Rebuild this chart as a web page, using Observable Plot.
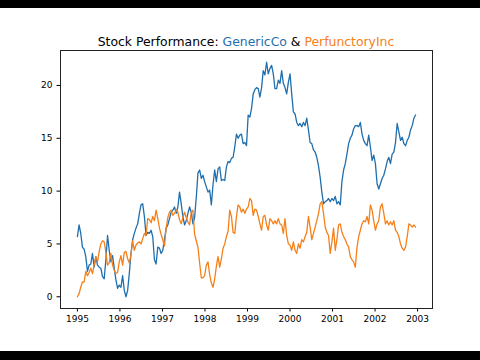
<!DOCTYPE html>
<html>
<head>
<meta charset="utf-8">
<script src="https://cdn.jsdelivr.net/npm/d3@7"></script>
<script src="https://cdn.jsdelivr.net/npm/@observablehq/plot@0.6"></script>
<style>
  html, body { margin: 0; padding: 0; background: #000; width: 480px; height: 360px; overflow: hidden; }
  #wrap { position: absolute; left: 0; top: 8px; width: 480px; height: 343px; background: #fff; }
  #wrap svg { display: block; }
</style>
</head>
<body>
<div id="wrap"></div>
<script>
const titleParts = [
  {text: "Stock Performance: ", color: "#000"},
  {text: "GenericCo", color: "#1f6fae"},
  {text: " & ", color: "#000"},
  {text: "PerfunctoryInc", color: "#f5801a"}
];
const seriesNames = ["GenericCo", "PerfunctoryInc"];
const yearTicks = [1995, 1996, 1997, 1998, 1999, 2000, 2001, 2002, 2003];
const valueTicks = [0, 5, 10, 15, 20];
const startYear = 1995.0;
const endYear = 2002.953;

const genericCo = [
  5.7, 6.8, 6.0, 4.7, 4.5, 3.8, 2.4, 3.0, 3.1, 4.1,
  2.8, 3.8, 3.0, 2.8, 2.7, 1.9, 1.7, 3.5, 5.8, 4.4,
  3.3, 3.9, 2.7, 1.6, 0.8, 1.1, 0.9, 2.0, 0.6, 0.0,
  0.6, 2.2, 4.1, 5.4, 6.0, 6.5, 6.9, 7.9, 8.7, 8.8,
  7.6, 5.8, 6.1, 6.0, 6.3, 5.7, 3.5, 3.1, 4.7, 4.6,
  4.1, 4.4, 5.4, 6.5, 6.8, 7.4, 8.0, 8.2, 8.5, 7.9,
  8.5, 9.9, 8.8, 7.6, 6.8, 7.2, 7.9, 8.5, 8.0, 6.9,
  7.5, 9.4, 11.7, 12.0, 11.2, 11.5, 10.9, 10.4, 9.9, 10.1,
  8.7, 10.6, 12.0, 10.9, 12.1, 12.3, 11.0, 11.1, 11.0, 12.3,
  12.8,
  12.7, 13.1, 13.2, 14.2, 15.4, 15.0, 15.3, 15.4, 14.5, 14.6,
  14.3, 17.2, 17.0, 17.8, 19.2, 19.6, 19.8, 19.7, 18.9, 19.8,
  21.4, 21.0, 22.2, 21.1, 21.6, 21.9, 21.1, 19.7, 19.7, 20.5,
  20.2, 21.4, 20.2, 19.8, 19.2, 20.3, 21.1, 19.2, 17.5, 17.3,
  16.5, 16.2, 16.4, 16.1, 16.5, 16.2, 16.9, 15.8, 14.6, 14.5,
  13.9, 13.7, 13.2, 12.4, 11.3, 9.9, 8.8, 9.0, 9.1, 9.3,
  9.0, 9.3, 9.1, 9.5, 8.8, 9.0, 8.7, 10.9, 12.0, 12.6,
  13.5, 14.5, 15.0, 15.3, 15.9, 16.2, 16.2, 16.1, 16.5, 15.4,
  14.8, 14.5, 14.3, 15.3, 14.2, 12.9, 13.4, 12.6, 10.7, 10.2,
  10.7, 11.2, 11.5, 12.1, 12.8, 13.2, 12.6, 13.5, 13.7, 14.6,
  16.4, 15.6, 14.8, 15.1, 14.5, 14.3, 14.8, 15.1, 15.8, 16.2,
  16.9, 17.2
];

const perfunctoryInc = [
  0.0, 0.3, 0.9, 1.4, 1.4, 2.4, 2.0, 2.3, 2.7, 2.2,
  3.0, 3.8, 3.3, 4.3, 5.0, 5.3, 5.2, 4.2, 3.0, 3.2,
  4.1, 3.0, 2.5, 2.2, 2.3, 3.3, 3.9, 3.0, 4.2, 4.3,
  3.6, 3.2, 4.0, 5.3, 4.4, 4.9, 5.1, 5.2, 5.0, 5.5,
  6.0, 5.8, 7.4, 7.3, 7.0, 7.6, 7.2, 8.2, 7.4, 6.5,
  5.9, 5.4, 4.8, 6.5, 7.5, 8.0, 8.2, 7.7, 7.9, 8.2,
  8.0, 7.3, 6.9, 7.5, 8.0, 7.5, 7.1, 6.8, 8.0, 8.2,
  5.9, 5.3, 4.7, 3.2, 1.8, 1.8, 2.0, 3.0, 3.3, 2.1,
  1.3, 0.9, 1.7, 2.9, 3.8, 2.8, 3.6, 4.6, 5.0, 5.7,
  6.2,
  8.2, 7.6, 6.1, 6.0, 7.6, 8.7, 8.5, 8.0, 8.3, 7.9,
  8.3, 8.5, 9.3, 9.1, 7.7, 8.3, 8.2, 7.6, 6.9, 6.3,
  7.6, 7.7, 6.8, 6.3, 7.4, 7.2, 6.9, 7.2, 6.9, 7.4,
  6.9, 6.8, 6.0, 7.4, 5.8, 5.0, 4.9, 4.4, 5.2, 4.4,
  4.1, 5.0, 4.6, 5.4, 5.2, 5.7, 6.1, 7.6, 6.6, 5.4,
  6.0, 6.6, 7.2, 7.9, 8.8, 9.0, 7.9, 6.6, 6.1, 5.8,
  4.1, 5.2, 6.5, 4.4, 5.4, 6.8, 6.9, 6.1, 5.7, 5.4,
  5.0, 4.7, 3.8, 3.5, 3.3, 2.8, 4.7, 5.7, 6.3, 6.9,
  7.2, 7.1, 7.6, 6.9, 8.7, 8.2, 7.2, 6.3, 6.9, 7.2,
  8.5, 8.8, 7.9, 6.9, 7.2, 6.8, 7.1, 6.8, 7.2, 6.3,
  6.1, 5.7, 5.0, 4.6, 4.4, 4.7, 5.7, 6.9, 6.8, 6.6,
  6.8, 6.6
];

const n = genericCo.length;
const dates = d3.range(n).map(i => startYear + i * (endYear - startYear) / (n - 1));

// matplotlib-style 5% margins
const xr = endYear - startYear;
const xDomain = [startYear - 0.05 * xr, endYear + 0.05 * xr];
const allVals = genericCo.concat(perfunctoryInc);
const ymin = d3.min(allVals), ymax = d3.max(allVals);
const yr = ymax - ymin;
const yDomain = [ymin - 0.05 * yr, ymax + 0.05 * yr];

const blue = titleParts[1].color;
const orange = titleParts[3].color;

const chart = Plot.plot({
  width: 480,
  height: 343,
  marginLeft: 60,
  marginRight: 48,
  marginTop: 42,
  marginBottom: 43,
  style: {fontFamily: "DejaVu Sans", fontSize: "9px", color: "#000", background: "#fff"},
  x: {domain: xDomain},
  y: {domain: yDomain},
  marks: [
    Plot.line(genericCo, {x: dates, y: genericCo, stroke: blue, strokeWidth: 1.3}),
    Plot.line(perfunctoryInc, {x: dates, y: perfunctoryInc, stroke: orange, strokeWidth: 1.3}),
    Plot.axisX({ticks: yearTicks, tickSize: 3.5, tickPadding: 4, tickFormat: d => String(d), label: null}),
    Plot.axisY({ticks: valueTicks, tickSize: 3.5, tickPadding: 4.5, label: null}),
    Plot.frame({stroke: "#222", strokeWidth: 1})
  ]
});

document.getElementById("wrap").appendChild(chart);

const t = d3.select(chart).append("text")
  .attr("x", 246)
  .attr("y", 38)
  .attr("text-anchor", "middle")
  .style("font-family", "DejaVu Sans")
  .style("font-size", "12.4px");
titleParts.forEach(p => {
  t.append("tspan").attr("fill", p.color).style("white-space", "pre").text(p.text);
});
t.attr("xml:space", "preserve");
</script>
</body>
</html>
